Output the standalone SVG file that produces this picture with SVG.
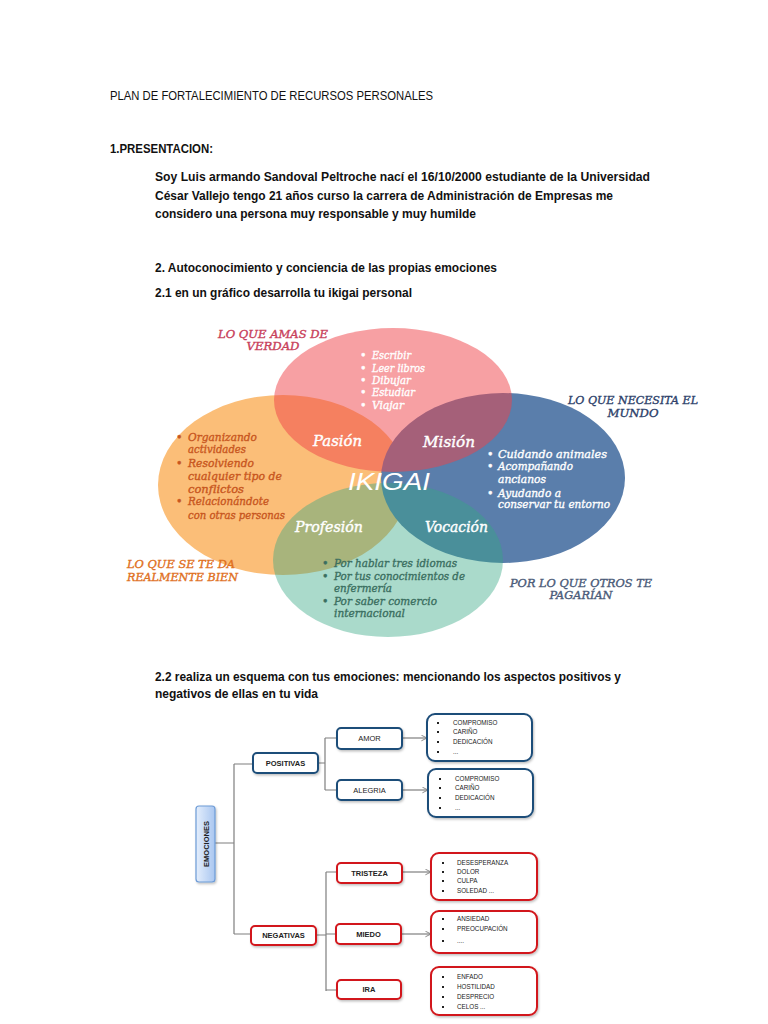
<svg xmlns="http://www.w3.org/2000/svg" width="768" height="1024" viewBox="0 0 768 1024">
<defs>
<style>
.b{font-family:"Liberation Sans",Arial,sans-serif;font-size:13px;fill:#111}
.bb{font-family:"Liberation Sans",Arial,sans-serif;font-size:13px;font-weight:bold;fill:#111}
.sc{font-family:"DejaVu Serif","Liberation Serif",serif;font-style:italic}
.wl{font-size:11px;fill:#ffffff;stroke:#ffffff;stroke-width:0.35}
.ol{font-size:11px;fill:#c8561e;stroke:#c8561e;stroke-width:0.35}
.gl{font-size:11px;fill:#3a6e60;stroke:#3a6e60;stroke-width:0.35}
.lab{font-size:14px;fill:#ffffff;stroke:#ffffff;stroke-width:0.4}
.hd{font-size:10.5px;stroke-width:0.35}
.bx{fill:#ffffff;stroke-width:2}
.blu{stroke:#1f4e79}
.red{stroke:#d2171b}
.t8{font-family:"Liberation Sans",Arial,sans-serif;font-size:7.5px;fill:#222;text-anchor:middle}
.t6{font-family:"Liberation Sans",Arial,sans-serif;font-size:6.3px;fill:#222}
.con{fill:none;stroke:#7f7f7f;stroke-width:1.2}
</style>
<marker id="arr" viewBox="0 0 10 10" refX="9" refY="5" markerWidth="7" markerHeight="7" orient="auto" markerUnits="userSpaceOnUse">
<path d="M1,1 L9,5 L1,9" fill="none" stroke="#7f7f7f" stroke-width="1.3"/>
</marker>
<linearGradient id="eg" x1="0" y1="0" x2="1" y2="0">
<stop offset="0" stop-color="#e4eefc"/>
<stop offset="1" stop-color="#a9c6f0"/>
</linearGradient>
<filter id="sh" x="-10%" y="-10%" width="130%" height="140%">
<feDropShadow dx="1" dy="1.5" stdDeviation="1" flood-color="#000" flood-opacity="0.25"/>
</filter>
</defs>
<rect width="768" height="1024" fill="#ffffff"/>

<g id="text-header">
<text class="b" x="110" y="100" textLength="323" lengthAdjust="spacingAndGlyphs">PLAN DE FORTALECIMIENTO DE RECURSOS PERSONALES</text>
<text class="bb" x="110" y="153" textLength="103" lengthAdjust="spacingAndGlyphs">1.PRESENTACION:</text>
<text class="bb" x="155" y="181" textLength="495" lengthAdjust="spacingAndGlyphs">Soy Luis armando Sandoval Peltroche nací el 16/10/2000 estudiante de la Universidad</text>
<text class="bb" x="155" y="200" textLength="458" lengthAdjust="spacingAndGlyphs">César Vallejo tengo 21 años curso la carrera de Administración de Empresas me</text>
<text class="bb" x="155" y="218" textLength="321" lengthAdjust="spacingAndGlyphs">considero una persona muy responsable y muy humilde</text>
<text class="bb" x="155" y="272" textLength="342" lengthAdjust="spacingAndGlyphs">2. Autoconocimiento y conciencia de las propias emociones</text>
<text class="bb" x="155" y="297" textLength="257" lengthAdjust="spacingAndGlyphs">2.1 en un gráfico desarrolla tu ikigai personal</text>
<text class="bb" x="155" y="681" textLength="466" lengthAdjust="spacingAndGlyphs">2.2 realiza un esquema con tus emociones: mencionando los aspectos positivos y</text>
<text class="bb" x="155" y="698" textLength="163" lengthAdjust="spacingAndGlyphs">negativos de ellas en tu vida</text>
</g>

<g id="ikigai">
<ellipse cx="283" cy="485" rx="125" ry="90" fill="#fbbe78"/>
<ellipse cx="503" cy="478" rx="122" ry="85" fill="#5a7eab"/>
<ellipse cx="393" cy="400" rx="119" ry="72" fill="#ef4147" fill-opacity="0.5"/>
<ellipse cx="388" cy="560" rx="115" ry="77" fill="#35a882" fill-opacity="0.42"/>

<g class="sc">
<text class="hd" x="273" y="338" text-anchor="middle" fill="#c8405a" stroke="#c8405a" textLength="110" lengthAdjust="spacingAndGlyphs">LO QUE AMAS DE</text>
<text class="hd" x="273" y="350" text-anchor="middle" fill="#c8405a" stroke="#c8405a" textLength="53" lengthAdjust="spacingAndGlyphs">VERDAD</text>
<text class="hd" x="633" y="404" text-anchor="middle" fill="#2d3f6a" stroke="#2d3f6a" textLength="130" lengthAdjust="spacingAndGlyphs">LO QUE NECESITA EL</text>
<text class="hd" x="633" y="417" text-anchor="middle" fill="#2d3f6a" stroke="#2d3f6a" textLength="51" lengthAdjust="spacingAndGlyphs">MUNDO</text>
<text class="hd" x="127" y="568" fill="#e0701e" stroke="#e0701e" textLength="108" lengthAdjust="spacingAndGlyphs">LO QUE SE TE DA</text>
<text class="hd" x="127" y="581" fill="#e0701e" stroke="#e0701e" textLength="111" lengthAdjust="spacingAndGlyphs">REALMENTE BIEN</text>
<text class="hd" x="581" y="587" text-anchor="middle" fill="#4a5a78" stroke="#4a5a78" textLength="142" lengthAdjust="spacingAndGlyphs">POR LO QUE OTROS TE</text>
<text class="hd" x="581" y="599" text-anchor="middle" fill="#4a5a78" stroke="#4a5a78" textLength="63" lengthAdjust="spacingAndGlyphs">PAGARÍAN</text>

<text class="wl" x="360" y="359">•</text><text class="wl" x="372" y="359" textLength="39" lengthAdjust="spacingAndGlyphs">Escribir</text>
<text class="wl" x="360" y="372">•</text><text class="wl" x="372" y="372" textLength="53" lengthAdjust="spacingAndGlyphs">Leer libros</text>
<text class="wl" x="360" y="384">•</text><text class="wl" x="372" y="384" textLength="39" lengthAdjust="spacingAndGlyphs">Dibujar</text>
<text class="wl" x="360" y="396">•</text><text class="wl" x="372" y="396" textLength="43" lengthAdjust="spacingAndGlyphs">Estudiar</text>
<text class="wl" x="360" y="409">•</text><text class="wl" x="372" y="409" textLength="32" lengthAdjust="spacingAndGlyphs">Viajar</text>

<text class="ol" x="176" y="441">•</text><text class="ol" x="188" y="441" textLength="69" lengthAdjust="spacingAndGlyphs">Organizando</text>
<text class="ol" x="188" y="453" textLength="58" lengthAdjust="spacingAndGlyphs">actividades</text>
<text class="ol" x="176" y="467">•</text><text class="ol" x="188" y="467" textLength="66" lengthAdjust="spacingAndGlyphs">Resolviendo</text>
<text class="ol" x="188" y="480" textLength="94" lengthAdjust="spacingAndGlyphs">cualquier tipo de</text>
<text class="ol" x="188" y="493" textLength="56" lengthAdjust="spacingAndGlyphs">conflictos</text>
<text class="ol" x="176" y="505">•</text><text class="ol" x="188" y="505" textLength="81" lengthAdjust="spacingAndGlyphs">Relacionándote</text>
<text class="ol" x="188" y="519" textLength="97" lengthAdjust="spacingAndGlyphs">con otras personas</text>

<text class="wl" x="487" y="458">•</text><text class="wl" x="498" y="458" textLength="109" lengthAdjust="spacingAndGlyphs">Cuidando animales</text>
<text class="wl" x="487" y="470">•</text><text class="wl" x="498" y="470" textLength="75" lengthAdjust="spacingAndGlyphs">Acompañando</text>
<text class="wl" x="498" y="483" textLength="48" lengthAdjust="spacingAndGlyphs">ancianos</text>
<text class="wl" x="487" y="497">•</text><text class="wl" x="498" y="497" textLength="63" lengthAdjust="spacingAndGlyphs">Ayudando a</text>
<text class="wl" x="498" y="508" textLength="112" lengthAdjust="spacingAndGlyphs">conservar tu entorno</text>

<text class="gl" x="322" y="567">•</text><text class="gl" x="334" y="567" textLength="123" lengthAdjust="spacingAndGlyphs">Por hablar tres idiomas</text>
<text class="gl" x="322" y="580">•</text><text class="gl" x="334" y="580" textLength="131" lengthAdjust="spacingAndGlyphs">Por tus conocimientos de</text>
<text class="gl" x="334" y="592" textLength="58" lengthAdjust="spacingAndGlyphs">enfermería</text>
<text class="gl" x="322" y="605">•</text><text class="gl" x="334" y="605" textLength="103" lengthAdjust="spacingAndGlyphs">Por saber comercio</text>
<text class="gl" x="334" y="617" textLength="71" lengthAdjust="spacingAndGlyphs">internacional</text>

<text class="lab" x="313" y="446" textLength="49" lengthAdjust="spacingAndGlyphs">Pasión</text>
<text class="lab" x="423" y="447" textLength="52" lengthAdjust="spacingAndGlyphs">Misión</text>
<text class="lab" x="295" y="532" textLength="68" lengthAdjust="spacingAndGlyphs">Profesión</text>
<text class="lab" x="425" y="532" textLength="63" lengthAdjust="spacingAndGlyphs">Vocación</text>
<text x="348" y="490" font-family="'Liberation Sans',Arial,sans-serif" font-size="23" fill="#ffffff" textLength="82" lengthAdjust="spacingAndGlyphs">IKIGAI</text>
</g>
</g>

<g id="connectors">
<path class="con" d="M215,843 H234 M234,764 V934 M234,764 H253 M234,934 H251"/>
<path class="con" d="M318,763 H325 M325,738 V790 M325,738 H337 M325,790 H337"/>
<path class="con" d="M316,935 H326 M326,872 V991 M326,872 H337 M326,934 H336 M326,990 H337"/>
<line class="con" x1="402" y1="738" x2="427" y2="738" marker-end="url(#arr)"/>
<line class="con" x1="402" y1="790" x2="428" y2="790" marker-end="url(#arr)"/>
<line class="con" x1="402" y1="872" x2="431" y2="872" marker-end="url(#arr)"/>
<line class="con" x1="401" y1="934" x2="431" y2="934" marker-end="url(#arr)"/>
</g>

<g id="emociones">
<rect x="196" y="806" width="19" height="76" rx="3" fill="url(#eg)" stroke="#6d9bd6" stroke-width="1.2" filter="url(#sh)"/>
<text class="t8" transform="translate(208.5,844) rotate(-90)" font-size="6.5" font-weight="bold">EMOCIONES</text>
</g>

<g id="positivas">
<rect class="bx blu" x="253" y="753" width="65" height="20" rx="4" filter="url(#sh)"/>
<text class="t8" x="285.5" y="766" font-weight="bold">POSITIVAS</text>
</g>
<g id="amor">
<rect class="bx blu" x="337" y="728" width="65" height="21" rx="4" filter="url(#sh)"/>
<text class="t8" x="369.5" y="741">AMOR</text>
</g>
<g id="alegria">
<rect class="bx blu" x="337" y="780" width="65" height="20" rx="4" filter="url(#sh)"/>
<text class="t8" x="369.5" y="793">ALEGRIA</text>
</g>
<g id="lista-amor">
<rect class="bx blu" x="427" y="714" width="105" height="47" rx="8" filter="url(#sh)"/>
<g class="t6">
<rect x="437" y="722" width="2" height="2" fill="#222"/><text x="453" y="725">COMPROMISO</text>
<rect x="437" y="731" width="2" height="2" fill="#222"/><text x="453" y="734">CARIÑO</text>
<rect x="437" y="741" width="2" height="2" fill="#222"/><text x="453" y="744">DEDICACIÓN</text>
<rect x="437" y="751" width="2" height="2" fill="#222"/><text x="453" y="754">...</text>
</g>
</g>
<g id="lista-alegria">
<rect class="bx blu" x="428" y="769" width="105" height="48" rx="8" filter="url(#sh)"/>
<g class="t6">
<rect x="439" y="778" width="2" height="2" fill="#222"/><text x="455" y="781">COMPROMISO</text>
<rect x="439" y="787" width="2" height="2" fill="#222"/><text x="455" y="790">CARIÑO</text>
<rect x="439" y="797" width="2" height="2" fill="#222"/><text x="455" y="800">DEDICACIÓN</text>
<rect x="439" y="807" width="2" height="2" fill="#222"/><text x="455" y="810">...</text>
</g>
</g>

<g id="negativas">
<rect class="bx red" x="251" y="926" width="65" height="19" rx="4" filter="url(#sh)"/>
<text class="t8" x="283.5" y="938" font-weight="bold">NEGATIVAS</text>
</g>
<g id="tristeza">
<rect class="bx red" x="337" y="863" width="65" height="20" rx="4" filter="url(#sh)"/>
<text class="t8" x="369.5" y="876" font-weight="bold">TRISTEZA</text>
</g>
<g id="miedo">
<rect class="bx red" x="336" y="924" width="65" height="20" rx="4" filter="url(#sh)"/>
<text class="t8" x="368.5" y="937" font-weight="bold">MIEDO</text>
</g>
<g id="ira">
<rect class="bx red" x="337" y="980" width="64" height="19" rx="4" filter="url(#sh)"/>
<text class="t8" x="369" y="992" font-weight="bold">IRA</text>
</g>
<g id="lista-tristeza">
<rect class="bx red" x="431" y="853" width="106" height="47" rx="8" filter="url(#sh)"/>
<g class="t6">
<rect x="442" y="862" width="2" height="2" fill="#222"/><text x="457" y="865">DESESPERANZA</text>
<rect x="442" y="871" width="2" height="2" fill="#222"/><text x="457" y="874">DOLOR</text>
<rect x="442" y="880" width="2" height="2" fill="#222"/><text x="457" y="883">CULPA</text>
<rect x="442" y="890" width="2" height="2" fill="#222"/><text x="457" y="893">SOLEDAD  ...</text>
</g>
</g>
<g id="lista-miedo">
<rect class="bx red" x="431" y="911" width="106" height="42" rx="8" filter="url(#sh)"/>
<g class="t6">
<rect x="442" y="918" width="2" height="2" fill="#222"/><text x="457" y="921">ANSIEDAD</text>
<rect x="442" y="928" width="2" height="2" fill="#222"/><text x="457" y="931">PREOCUPACIÓN</text>
<rect x="442" y="940" width="2" height="2" fill="#222"/><text x="457" y="943">....</text>
</g>
</g>
<g id="lista-ira">
<rect class="bx red" x="431" y="967" width="106" height="48" rx="8" filter="url(#sh)"/>
<g class="t6">
<rect x="442" y="976" width="2" height="2" fill="#222"/><text x="457" y="979">ENFADO</text>
<rect x="442" y="986" width="2" height="2" fill="#222"/><text x="457" y="989">HOSTILIDAD</text>
<rect x="442" y="996" width="2" height="2" fill="#222"/><text x="457" y="999">DESPRECIO</text>
<rect x="442" y="1006" width="2" height="2" fill="#222"/><text x="457" y="1009">CELOS  ...</text>
</g>
</g>
</svg>
